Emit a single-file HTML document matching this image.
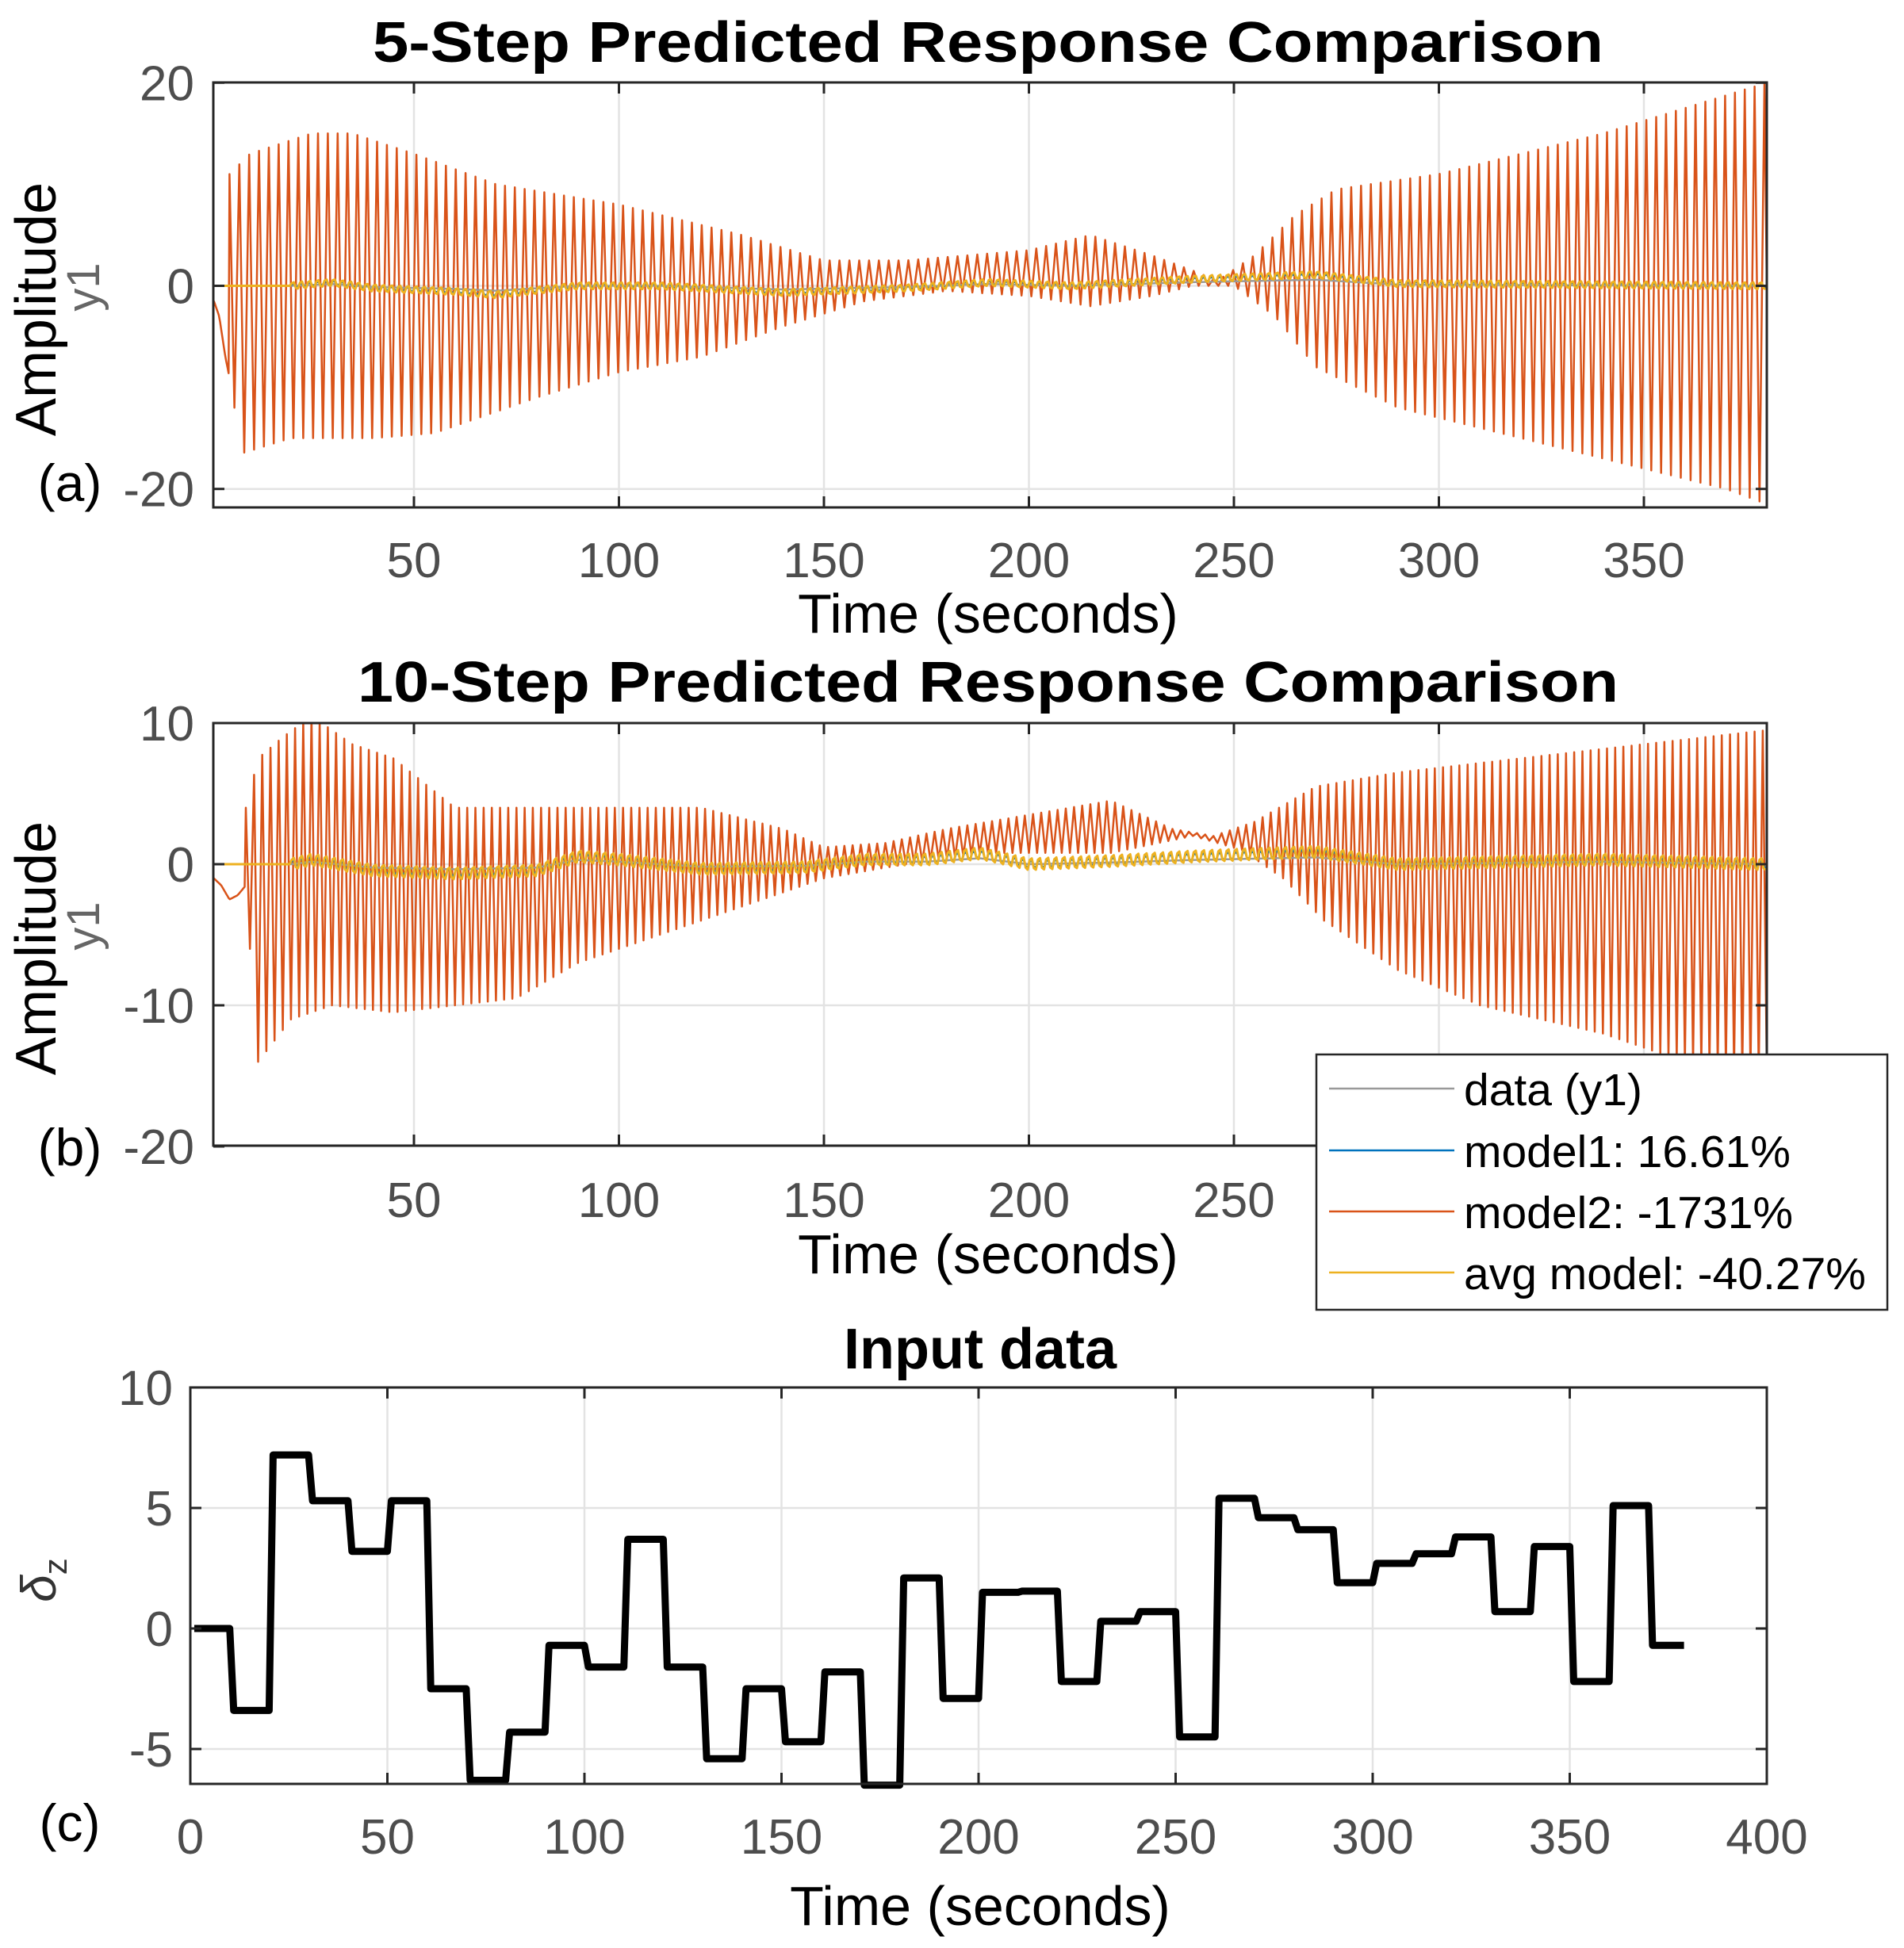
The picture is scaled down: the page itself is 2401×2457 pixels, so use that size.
<!DOCTYPE html>
<html><head><meta charset="utf-8">
<style>
html,body{margin:0;padding:0;background:#fff;}
svg{display:block;}
text{font-family:"Liberation Sans",Arial,sans-serif;}
</style></head>
<body>
<svg id="s" width="2401" height="2457" viewBox="0 0 2401 2457" xmlns="http://www.w3.org/2000/svg">
<rect width="2401" height="2457" fill="#fff"/>
<g id="g"></g>
<text x="1246" y="78" font-size="72" font-weight="bold" text-anchor="middle" textLength="1552" lengthAdjust="spacingAndGlyphs">5-Step Predicted Response Comparison</text>
<text x="1246" y="885" font-size="72" font-weight="bold" text-anchor="middle" textLength="1590" lengthAdjust="spacingAndGlyphs">10-Step Predicted Response Comparison</text>
<text x="1236" y="1726" font-size="72" font-weight="bold" text-anchor="middle">Input data</text>
<text x="1246" y="798" font-size="70" text-anchor="middle">Time (seconds)</text>
<text x="1246" y="1606" font-size="70" text-anchor="middle">Time (seconds)</text>
<text x="1236" y="2428" font-size="70" text-anchor="middle">Time (seconds)</text>
<text transform="translate(70,390) rotate(-90)" font-size="72" text-anchor="middle">Amplitude</text>
<text transform="translate(125,362) rotate(-90)" font-size="58" fill="#666" text-anchor="middle">y1</text>
<text transform="translate(70,1196) rotate(-90)" font-size="72" text-anchor="middle">Amplitude</text>
<text transform="translate(125,1168) rotate(-90)" font-size="58" fill="#666" text-anchor="middle">y1</text>
<text transform="translate(70,1993) rotate(-90)" font-size="62" fill="#333" text-anchor="middle" font-family="Liberation Serif" font-style="italic">δ<tspan font-size="42" dy="14" font-style="normal" font-family="Liberation Sans">z</tspan></text>
<text x="88" y="632" font-size="66" text-anchor="middle">(a)</text>
<text x="88" y="1470" font-size="66" text-anchor="middle">(b)</text>
<text x="88" y="2322" font-size="66" text-anchor="middle">(c)</text>
<rect x="1660" y="1330" width="720" height="322" fill="#fff" stroke="#262626" stroke-width="2.5"/>
<line x1="1676" y1="1373" x2="1834" y2="1373" stroke="#999" stroke-width="2.5"/>
<line x1="1676" y1="1451" x2="1834" y2="1451" stroke="#0072BD" stroke-width="2.5"/>
<line x1="1676" y1="1528" x2="1834" y2="1528" stroke="#D95319" stroke-width="2.5"/>
<line x1="1676" y1="1605" x2="1834" y2="1605" stroke="#EDB120" stroke-width="2.5"/>
<text x="1846" y="1394" font-size="57">data (y1)</text>
<text x="1846" y="1472" font-size="57">model1: 16.61%</text>
<text x="1846" y="1549" font-size="57">model2: -1731%</text>
<text x="1846" y="1626" font-size="57">avg model: -40.27%</text>
</svg>
<script>
(function(){
var NS="http://www.w3.org/2000/svg";
var g=document.getElementById('g');
var s=document.getElementById('s');
function el(t,a,p){var e=document.createElementNS(NS,t);for(var k in a)e.setAttribute(k,a[k]);(p||g).appendChild(e);return e;}
function txt(x,y,str,anchor,size,fill){var e=el('text',{x:x,y:y,'font-size':size||62,'text-anchor':anchor,fill:fill||'#4d4d4d'});e.textContent=str;}
function interp(pts,t){if(t<=pts[0][0])return pts[0][1];for(var i=1;i<pts.length;i++){if(t<=pts[i][0]){var a=pts[i-1],b=pts[i];return a[1]+(b[1]-a[1])*(t-a[0])/(b[0]-a[0]);}}return pts[pts.length-1][1];}
function axes(o){
 var X=function(t){return o.x0+(t-o.t0)*o.sx;}, Y=function(v){return o.y0-(v-o.v0)*o.sy;};
 o.X=X;o.Y=Y;
 o.xt.forEach(function(t){el('line',{x1:X(t),y1:o.top,x2:X(t),y2:o.bot,stroke:'#e3e3e3','stroke-width':2.5});});
 o.yt.forEach(function(v){el('line',{x1:o.left,y1:Y(v),x2:o.right,y2:Y(v),stroke:'#e3e3e3','stroke-width':2.5});});
 return o;
}
function frame(o){
 var X=o.X,Y=o.Y;
 el('rect',{x:o.left,y:o.top,width:o.right-o.left,height:o.bot-o.top,fill:'none',stroke:'#262626','stroke-width':3});
 o.xt.forEach(function(t){el('line',{x1:X(t),y1:o.bot,x2:X(t),y2:o.bot-14,stroke:'#262626','stroke-width':3});el('line',{x1:X(t),y1:o.top,x2:X(t),y2:o.top+14,stroke:'#262626','stroke-width':3});txt(X(t),o.xlab,String(t),'middle');});
 o.yt.forEach(function(v){el('line',{x1:o.left,y1:Y(v),x2:o.left+14,y2:Y(v),stroke:'#262626','stroke-width':3});el('line',{x1:o.right,y1:Y(v),x2:o.right-14,y2:Y(v),stroke:'#262626','stroke-width':3});txt(o.ylabx,Y(v)+22,String(v),'end');});
}
function clipFor(o,id){var d=el('clipPath',{id:id});el('rect',{x:o.left,y:o.top,width:o.right-o.left,height:o.bot-o.top},d);return 'url(#'+id+')';}
function path(o,pts,color,w,clip){var d='';pts.forEach(function(p,i){d+=(i?'L':'M')+o.X(p[0]).toFixed(1)+' '+o.Y(p[1]).toFixed(1);});var a={d:d,fill:'none',stroke:color,'stroke-width':w,'stroke-linejoin':'round'};if(clip)a['clip-path']=clip;el('path',a);}
function smallSeries(o,clip,base,amp){
 var dat=[],m1=[],av=[];
 for(var t=1.2;t<=380;t+=0.5){var b=interp(base,t);dat.push([t,b*0.6]);
  var w=Math.sin(t*3.14159)*amp*(t>20?1:0);m1.push([t,b+w*0.6]);av.push([t,b*1.1+w]);}
 path(o,dat,'#999',2.5,clip);path(o,m1,'#0072BD',2.5,clip);path(o,av,'#EDB120',3,clip);
}
function model2(o,clip,up,lo,start,pre,step){
 var p=[];
 for(var t=1.2;t<start;t+=0.3)p.push([t,interp(pre,t)]);
 var k=0;
 for(var t=start;t<=381;t+=step){p.push([t,k%2?interp(lo,t):interp(up,t)]);k++;}
 path(o,p,'#D95319',2.5,clip);
}
var A=axes({x0:263.5,t0:0,sx:5.17,y0:360.5,v0:0,sy:12.81,left:269,right:2228,top:104,bot:640,xt:[50,100,150,200,250,300,350],yt:[-20,0,20],xlab:728,ylabx:245});
var ca=clipFor(A,'ca');
model2(A,ca,
 [[5,11],[10,13],[25,15],[35,15],[50,13],[70,10],[100,8],[130,5],[150,2.5],[170,2.5],[185,3],[200,3.5],[215,5],[230,3],[240,1.5],[246,0.5],[255,3],[265,7],[275,9.5],[300,11],[320,13],[340,15],[360,17.5],[380,20]],
 [[5,-9],[8,-16.5],[20,-15],[40,-15],[55,-14.5],[80,-11],[100,-8.5],[120,-7],[140,-4],[160,-1.5],[180,-0.5],[200,-1],[215,-2],[230,-1],[240,0],[250,0],[260,-3],[270,-8],[290,-12],[310,-14],[340,-17],[370,-20],[380,-21.5]],
 5,[[1.2,-1.5],[2.5,-3],[4,-7],[5,-9]],1.2);
smallSeries(A,ca,[[1,0],[20,0],[30,0.3],[40,-0.2],[60,-0.5],[70,-0.8],[90,0],[110,0],[140,-0.6],[170,-0.2],[190,0.3],[210,0],[240,0.6],[270,1],[290,0.2],[380,0]],0.4);
frame(A);
var B=axes({x0:263.5,t0:0,sx:5.17,y0:1090,v0:0,sy:17.8,left:269,right:2228,top:912,bot:1445,xt:[50,100,150,200,250,300,350],yt:[-20,-10,0,10],xlab:1535,ylabx:245});
var cb=clipFor(B,'cb');
model2(B,cb,
 [[9,4],[12,7.5],[18,9],[25,10.5],[35,8.5],[45,7.5],[60,4],[90,4],[120,4],[140,2.5],[150,1.2],[165,1.5],[180,2.5],[200,3.5],[220,4.5],[235,2.5],[245,2],[255,3],[270,5.5],[290,6.5],[320,7.5],[350,8.5],[380,9.5]],
 [[9,-2],[12,-14],[20,-11],[30,-10],[45,-10.5],[60,-10],[75,-9.5],[90,-7],[110,-5],[130,-3],[150,-1],[170,0],[190,0.8],[220,0.8],[240,2],[252,1],[262,-1],[272,-4],[290,-7.5],[310,-10],[340,-12],[360,-14],[380,-15]],
 9,[[1.2,-1],[3,-1.5],[5,-2.5],[7,-2.2],[9,-1.5]],1);
smallSeries(B,cb,[[1,0],[20,0],[25,0.3],[40,-0.4],[60,-0.6],[80,-0.4],[90,0.5],[100,0.3],[120,-0.3],[145,-0.2],[160,0.3],[175,0.3],[188,0.7],[200,0],[220,0.2],[240,0.5],[270,0.8],[290,0],[340,0.3],[380,0]],0.5);
frame(B);
var C=axes({x0:240,t0:0,sx:4.97,y0:2054,v0:0,sy:30.4,left:240,right:2228,top:1750,bot:2250,xt:[0,50,100,150,200,250,300,350,400],yt:[-5,0,5,10],xlab:2338,ylabx:218});
var vals=[0,-3.4,7.2,5.3,3.2,5.3,-2.5,-6.3,-4.3,-0.7,-1.6,3.7,-1.6,-5.4,-2.5,-4.7,-1.8,-6.5,2.1,-2.9,1.5,1.55,-2.2,0.3,0.7,-4.5,5.4,4.6,4.1,1.9,2.7,3.1,3.8,0.7,3.4,-2.2,5.1,-0.7];
var p=[[1,vals[0]]];
for(var i=0;i<vals.length;i++){var t0=i*10+1;if(i>0)p.push([t0,vals[i]]);p.push([t0+9,vals[i]]);if(i==vals.length-1)p[p.length-1][0]=379;}
path(C,p,'#000',9,null);
frame(C);
var kids=[].slice.call(s.childNodes);
var idx=-1;for(var i=0;i<kids.length;i++){if(kids[i].nodeType===1&&kids[i].tagName==='rect'&&kids[i].getAttribute('x')==='1660'){idx=i;break;}}
kids.slice(idx).forEach(function(x){s.appendChild(x);});
})();
</script>
</body></html>
